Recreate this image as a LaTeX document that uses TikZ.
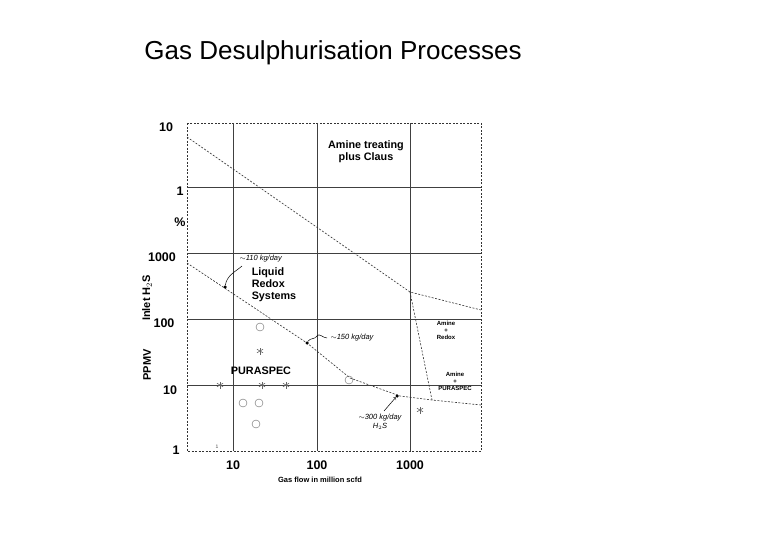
\documentclass[tikz,border=0pt]{standalone}
\usepackage{fontspec}
\setmainfont{Liberation Sans}
\begin{document}
\begin{tikzpicture}[x=1pt,y=-1pt,
  grid/.style={draw=black!75,line width=0.8pt},
  bnd/.style={draw=black!80,dashed,dash pattern=on 2pt off 1.5pt,line width=0.6pt},
  lab/.style={font=\bfseries\fontsize{10.8}{12}\selectfont,align=center},
  tiny/.style={font=\bfseries\fontsize{6}{7}\selectfont,align=center},
  hand/.style={font=\itshape\fontsize{7.5}{8.5}\selectfont},
  axl/.style={font=\bfseries\fontsize{12.5}{13}\selectfont},
  circ/.style={circle,draw=black!60,inner sep=0pt,minimum size=8pt},
  starl/.style={draw=black!60,line width=0.6pt},
  dotp/.style={circle,fill=black,inner sep=0pt,minimum size=3.5pt}]
\useasboundingbox (0,0) rectangle (768,543);
\node[font=\fontsize{26}{30}\selectfont] (title) at (333,53) {Gas Desulphurisation Processes};
% frame
\draw[bnd] (187,123) rectangle (481,451);
\foreach \x in {233,317,410} \draw[grid] (\x,123) -- (\x,451);
\foreach \y in {187,253,319,385} \draw[grid] (187,\y) -- (481,\y);
% boundaries
\coordinate (u0) at (187,137); \coordinate (u1) at (410,292); \coordinate (u2) at (481,310);
\draw[bnd] (u0) -- (u1) -- (u2);
\coordinate (l0) at (187,263); \coordinate (l1) at (307,343); \coordinate (l2) at (350,378);
\coordinate (l3) at (400,396); \coordinate (l4) at (432,400); \coordinate (l5) at (481,405);
\draw[bnd] (l0) -- (l1) -- (l2) -- (l3) -- (l4) -- (l5);
\draw[bnd] (u1) -- (l4);
% labels
\node[lab] (claus) at (366,152) {Amine treating\\plus Claus};
\node[lab,align=left] (redox) at (274,285) {Liquid\\Redox\\Systems};
\node[lab] (pura) at (261,371) {PURASPEC};
\node[tiny] (ar) at (446,330) {Amine\\+\\Redox};
\node[tiny] (ap) at (455,381) {Amine\\+\\PURASPEC};
% axes
\foreach \t/\x/\y in {10/166/127,1/180/191,\%/180/222,1000/162/257,100/164/323,10/170/390,1/176/450}
  \node[axl] at (\x,\y) {\t};
\node[lab,rotate=90,font=\bfseries\fontsize{11}{12}\selectfont] (ylab) at (147,298) {Inlet H$_2$S};
\node[lab,rotate=90,font=\bfseries\fontsize{11}{12}\selectfont] (ppmv) at (147,365) {PPMV};
\foreach \t/\x in {10/233,100/317,1000/410}
  \node[axl] at (\x,465) {\t};
\node[lab,font=\bfseries\fontsize{7.5}{8}\selectfont] (xlab) at (320,480) {Gas flow in million scfd};
\node[font=\fontsize{5}{5}\selectfont,text=black!70] (one) at (217,447) {1};
% data
\foreach \p in {(260,327),(349,380),(243,403),(259,403),(256,424)} \node[circ] at \p {};
\foreach \sx/\sy in {260/351,220/385,262/385,286/385,420/410}
  \foreach \a in {30,90,150} \draw[starl] (\sx,\sy) ++(\a:3.5) -- ++(\a+180:7);
\node[dotp] (d1) at (225,287) {};
\node[dotp] (d2) at (307,343) {};
\node[dotp] (d3) at (397,396) {};
% handwritten notes
\node[hand,anchor=west] (h1) at (236,259) {$\sim$110 kg/day};
\draw[line width=0.5pt] (h1.south west) ++(6,0) to[out=220,in=80] (d1);
\node[hand,anchor=west] (h2) at (327,338) {$\sim$150 kg/day};
\draw[line width=0.5pt] (h2.west) to[out=180,in=60] ++(-10,-2) to[out=240,in=60] (d2);
\node[hand,align=center] (h3) at (380,422) {$\sim$300 kg/day\\H$_2$S};
\draw[line width=0.5pt,->] (h3.north) ++(4,0) -- (d3);
\end{tikzpicture}
\end{document}
